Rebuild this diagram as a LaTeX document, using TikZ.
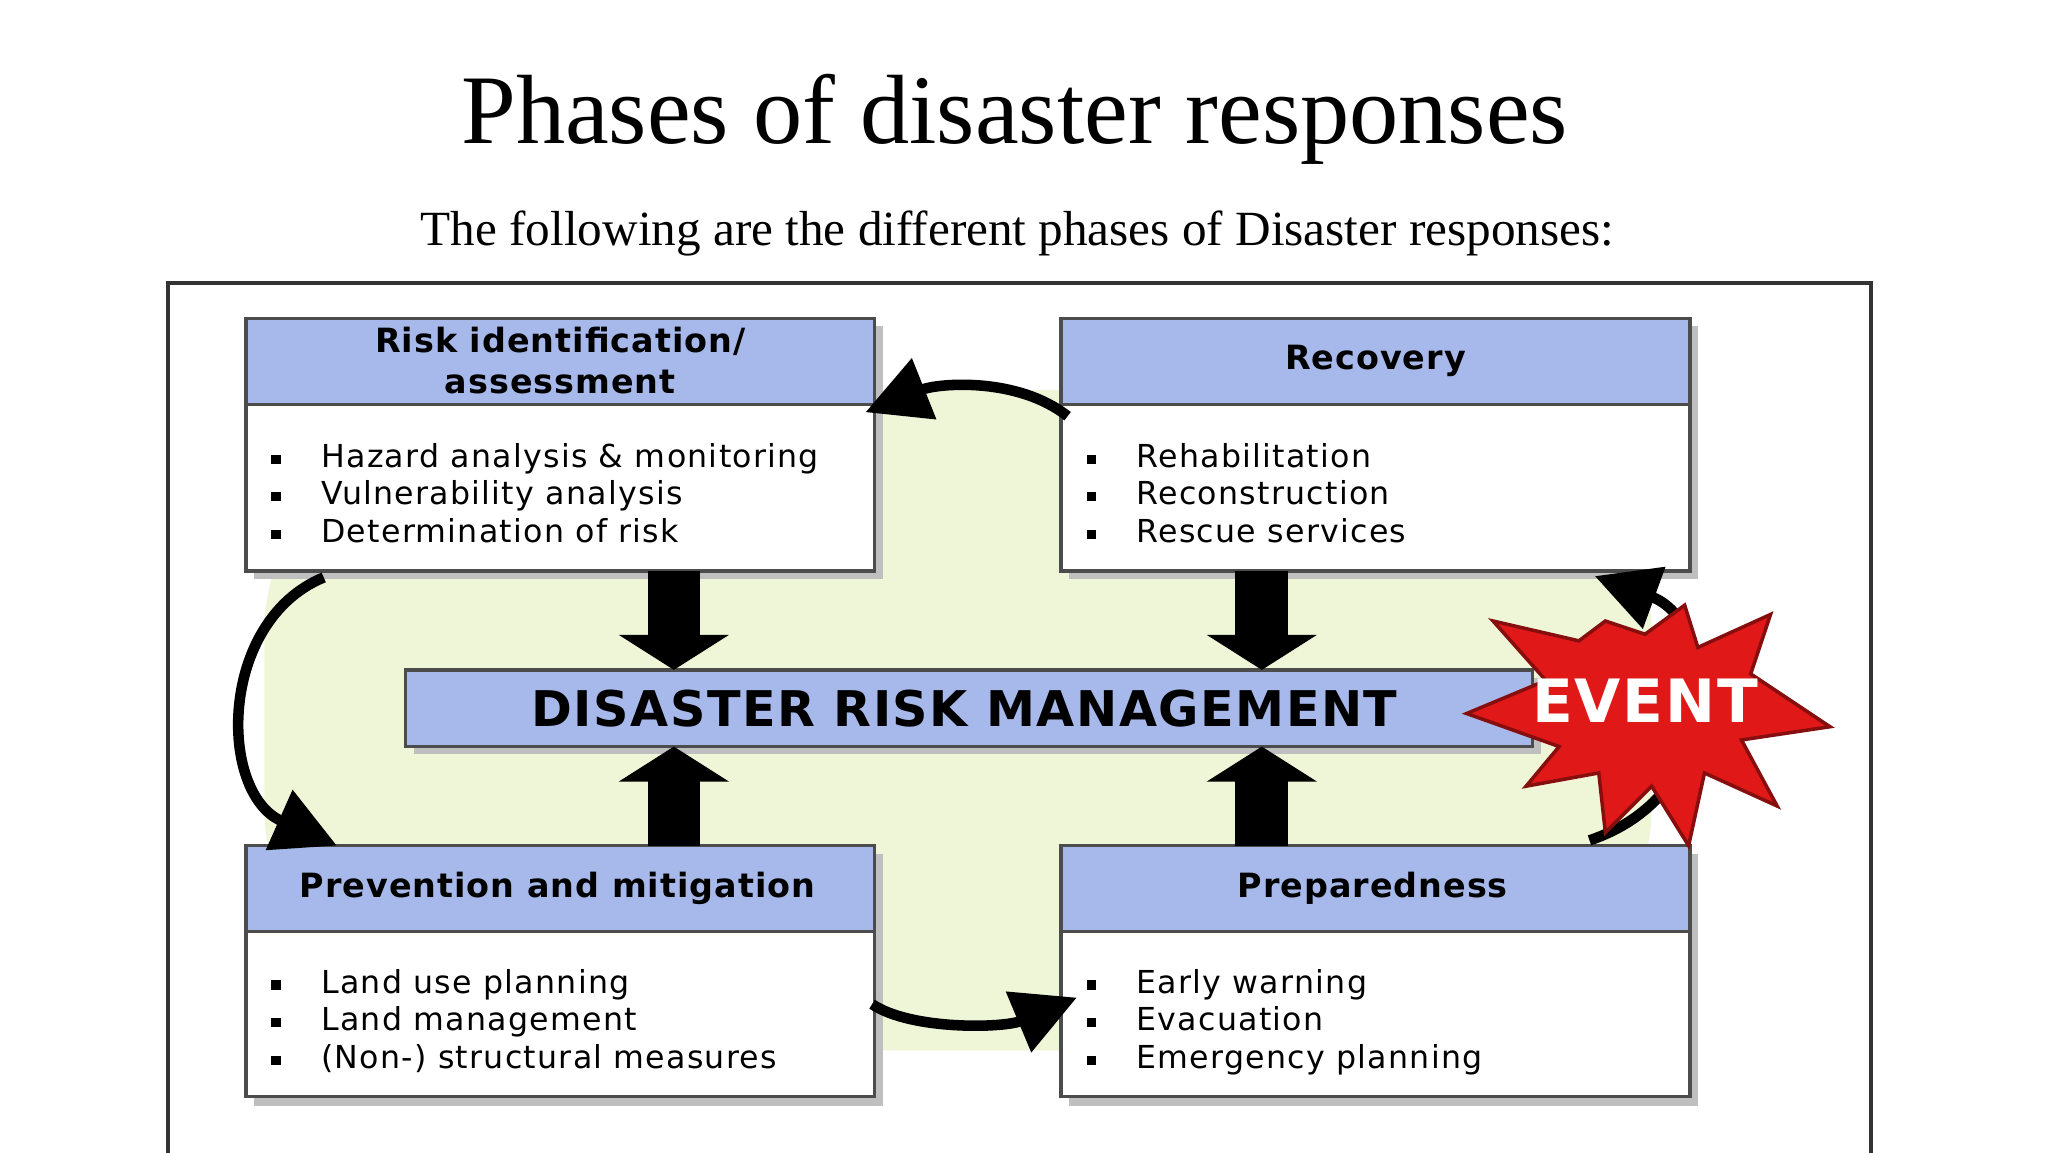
\documentclass[tikz,border=0pt]{standalone}
\usepackage{fontspec}
\setmainfont{Liberation Serif}
\newfontfamily\boxfont{DejaVu Sans}[LetterSpace=4]
\newfontfamily\boxfontb{DejaVu Sans}[LetterSpace=3]
\usetikzlibrary{arrows.meta,calc}
\definecolor{hdr}{HTML}{A7B8EA}
\definecolor{blob}{HTML}{EFF6D8}
\definecolor{evred}{HTML}{E01818}
\tikzset{
  boxbody/.style={draw=black!70,fill=white,line width=1pt},
  boxhdr/.style={draw=black!70,fill=hdr,line width=1pt},
  shadowbox/.style={fill=black!25},
  bigarrow/.style={-{Triangle[width=31pt,length=10pt]},line width=15pt,black},
  curvearrow/.style={-{Triangle[width=18pt,length=18pt]},line width=3pt,black},
  hdrtxt/.style={font=\boxfontb\bfseries\fontsize{9.5}{11.5}\selectfont,align=center},
  bodytxt/.style={font=\boxfont\fontsize{9}{10.7}\selectfont,align=left,anchor=north west}
}
\newcommand{\bl}{\makebox[11pt][l]{\rule[1pt]{2.6pt}{2.6pt}}}
\begin{document}
\begin{tikzpicture}[x=0.013213cm,y=-0.013213cm]
\useasboundingbox (0,0) rectangle (1550,872);
\fill[white] (0,0) rectangle (1550,872);
\node (title) at (768,90) {\fontsize{28}{33}\selectfont Phases of disaster responses};
\node (sub) at (770,177) {\fontsize{14}{16}\selectfont The following are the different phases of Disaster responses:};
\draw[black!80,line width=1.2pt] (127,214) rectangle (1416,875);
% blob
\fill[blob,rounded corners=60pt] (200,320) rectangle (1250,770);
\fill[blob,rounded corners=40pt] (420,295) rectangle (1050,795);
% boxes with shadows
\foreach \x/\y in {186/241,803/241,186/640,803/640}{
  \fill[shadowbox] (\x+6,\y+6) rectangle (\x+482,\y+197);
}
\draw[boxbody] (186,306) rectangle (662,432);
\draw[boxhdr] (186,241) rectangle (662,306);
\draw[boxbody] (803,306) rectangle (1279,432);
\draw[boxhdr] (803,241) rectangle (1279,306);
\draw[boxbody] (186,705) rectangle (662,830);
\draw[boxhdr] (186,640) rectangle (662,705);
\draw[boxbody] (803,705) rectangle (1279,830);
\draw[boxhdr] (803,640) rectangle (1279,705);
\node[hdrtxt] (h1) at (424,273) {Risk identification/\\assessment};
\node[hdrtxt] (h2) at (1041,273) {Recovery};
\node[hdrtxt] (h3) at (422,672) {Prevention and mitigation};
\node[hdrtxt] (h4) at (1039,672) {Preparedness};
\node[bodytxt] (b1) at (196,326) {\bl\ Hazard analysis \& monitoring\\\bl\ Vulnerability analysis\\\bl\ Determination of risk};
\node[bodytxt] (b2) at (813,326) {\bl\ Rehabilitation\\\bl\ Reconstruction\\\bl\ Rescue services};
\node[bodytxt] (b3) at (196,724) {\bl\ Land use planning\\\bl\ Land management\\\bl\ (Non-) structural measures};
\node[bodytxt] (b4) at (813,724) {\bl\ Early warning\\\bl\ Evacuation\\\bl\ Emergency planning};
% DRM bar
\fill[shadowbox] (313,513) rectangle (1166,571);
\draw[boxhdr] (307,507) rectangle (1160,565);
\node[font=\boxfontb\bfseries\fontsize{14}{16}\selectfont] (drm) at (730,536) {DISASTER RISK MANAGEMENT};
% thick arrows
\coordinate (a1s) at (510,432); \coordinate (a1e) at (510,507);
\coordinate (a2s) at (955,432); \coordinate (a2e) at (955,507);
\coordinate (a3s) at (510,640); \coordinate (a3e) at (510,565);
\coordinate (a4s) at (955,640); \coordinate (a4e) at (955,565);
\draw[bigarrow] (a1s) -- (a1e);
\draw[bigarrow] (a2s) -- (a2e);
\draw[bigarrow] (a3s) -- (a3e);
\draw[bigarrow] (a4s) -- (a4e);
% curved arrows
\coordinate (c1s) at (808,315); \coordinate (c1e) at (655,312);
\draw[curvearrow] (c1s) .. controls (770,285) and (710,290) .. (c1e);
\coordinate (c2s) at (245,437); \coordinate (c2e) at (255,640);
\draw[curvearrow] (c2s) .. controls (165,470) and (165,600) .. (c2e);
\coordinate (c3s) at (660,760); \coordinate (c3e) at (815,755);
\draw[curvearrow] (c3s) .. controls (690,780) and (760,778) .. (c3e);
\coordinate (c4s) at (1203,636); \coordinate (c4e) at (1207,436);
\draw[curvearrow] (c4s) .. controls (1310,600) and (1300,470) .. (c4e);
% EVENT starburst
\fill[evred,draw=evred!60!black,line width=1pt]
 (1385,550) -- (1318,560) -- (1345,610) -- (1290,585) -- (1278,640) -- (1250,595)
 -- (1215,630) -- (1210,585) -- (1155,595) -- (1180,565) -- (1110,540) -- (1170,515)
 -- (1130,470) -- (1195,485) -- (1215,470) -- (1245,480) -- (1275,458) -- (1285,490)
 -- (1340,465) -- (1325,510) -- cycle;
\node[font=\boxfontb\bfseries\fontsize{17}{20}\selectfont,text=white] (ev) at (1245,530) {EVENT};
\end{tikzpicture}
\end{document}
